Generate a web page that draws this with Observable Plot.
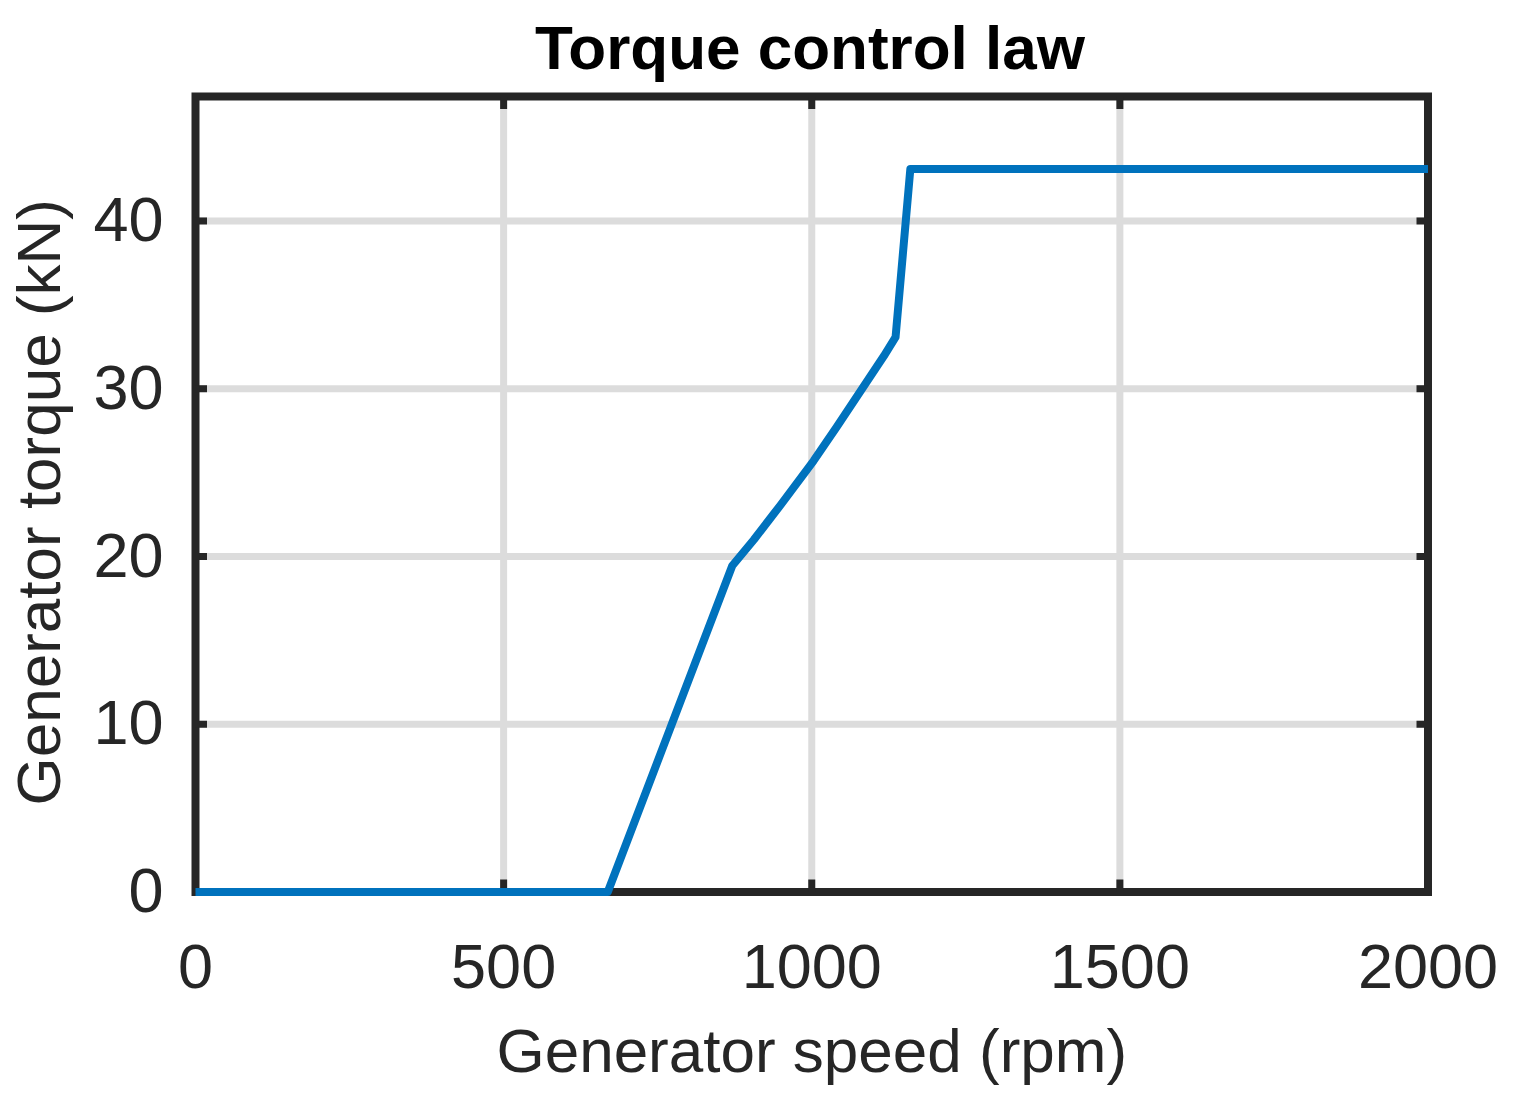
<!DOCTYPE html>
<html>
<head>
<meta charset="utf-8">
<script src="https://cdn.jsdelivr.net/npm/d3@7"></script>
<script src="https://cdn.jsdelivr.net/npm/@observablehq/plot@0.6"></script>
<style>
  html, body { margin: 0; padding: 0; background: #fff; }
  body { width: 1513px; height: 1103px; overflow: hidden; font-family: "Liberation Sans", Arial, sans-serif; }
  #title { height: 70px; padding-top: 13px; line-height: 70px; font-size: 62px; font-weight: bold; color: #000; text-align: center; padding-left: 107px; box-sizing: content-box; width: 1406px; }
  #chart svg { display: block; }
</style>
</head>
<body>
<div id="title">Torque control law</div>
<div id="chart"></div>
<script>
// Data
const generatorSpeed = [0, 669, 871, 906, 949, 1003, 1041, 1079, 1117, 1136, 1160, 2000];   // rpm
const generatorTorque = [0, 0, 19.45, 21.0, 23.05, 25.7, 27.75, 29.85, 31.95, 33.07, 43.1, 43.1]; // kN

const xTicks = [0, 500, 1000, 1500, 2000];
const yTicks = [0, 10, 20, 30, 40];
const xDomain = [0, 2000];
const yDomain = [0, 47.42];

const titleText = "Torque control law";
const xLabel = "Generator speed (rpm)";
const yLabel = "Generator torque (kN)";

const data = generatorSpeed.map((s, i) => ({speed: s, torque: generatorTorque[i]}));

const ink = "#262626";
const font = "Liberation Sans, Arial, sans-serif";
const fmt = d => String(d);

const chart = Plot.plot({
  width: 1513,
  height: 1020,
  marginTop: 13,
  marginBottom: 211.5,
  marginLeft: 195,
  marginRight: 85.5,
  style: {fontFamily: font, fontSize: "63px", color: ink, background: "#fff"},
  x: {domain: xDomain},
  y: {domain: yDomain},
  marks: [
    Plot.gridX(xTicks, {stroke: "#dcdcdc", strokeOpacity: 1, strokeWidth: 7}),
    Plot.gridY(yTicks, {stroke: "#dcdcdc", strokeOpacity: 1, strokeWidth: 7}),
    Plot.frame({stroke: ink, strokeWidth: 8}),
    Plot.axisX(xTicks, {anchor: "bottom", tickSize: -12, tickPadding: 63.5, strokeWidth: 7, stroke: ink, fill: ink, label: null, fontSize: 63, tickFormat: fmt}),
    Plot.axisX(xTicks, {anchor: "top", tickSize: -12, strokeWidth: 7, stroke: ink, tickFormat: () => "", label: null}),
    Plot.axisY(yTicks, {anchor: "left", tickSize: -12, tickPadding: 44, strokeWidth: 7, stroke: ink, fill: ink, label: null, fontSize: 63, tickFormat: fmt}),
    Plot.axisY(yTicks, {anchor: "right", tickSize: -12, strokeWidth: 7, stroke: ink, tickFormat: () => "", label: null}),
    Plot.line(data, {x: "speed", y: "torque", stroke: "#0072BD", strokeWidth: 8, strokeLinecap: "butt", strokeLinejoin: "round"}),
    Plot.text([xLabel], {frameAnchor: "bottom", dy: 160, fontSize: 62, fill: ink, lineAnchor: "middle", textAnchor: "middle"}),
    Plot.text([yLabel], {frameAnchor: "left", rotate: -90, dx: -155, dy: 8, fontSize: 62, fill: ink, lineAnchor: "middle", textAnchor: "middle"})
  ]
});
document.getElementById("title").textContent = titleText;
document.getElementById("chart").appendChild(chart);
</script>
</body>
</html>
